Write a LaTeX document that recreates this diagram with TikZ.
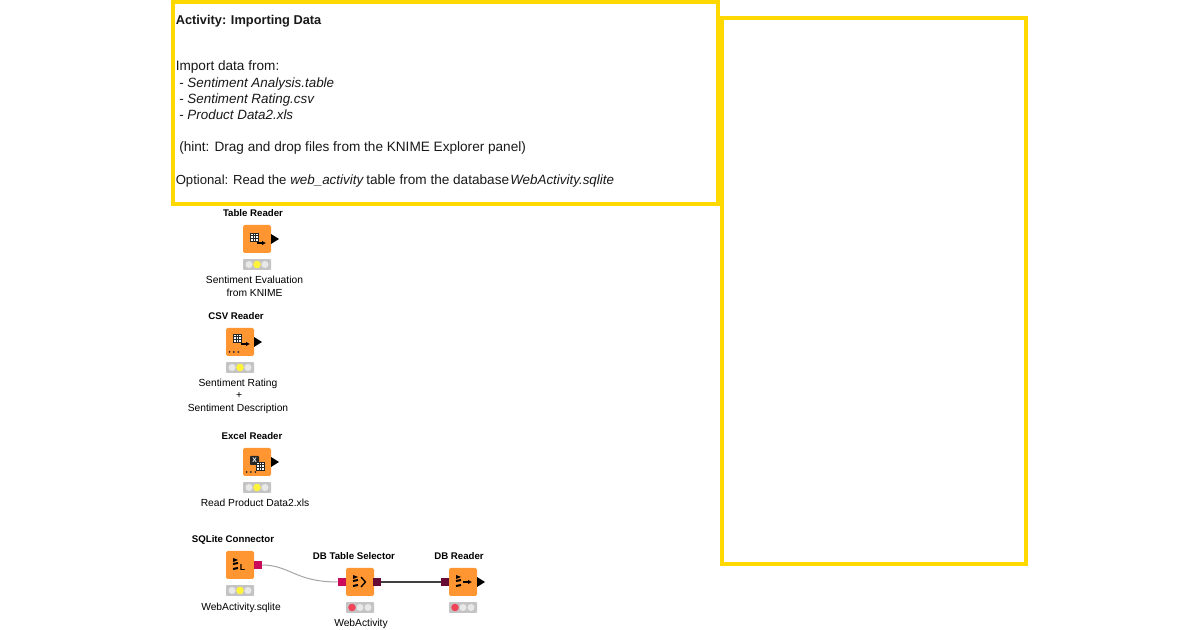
\documentclass[tikz,border=0pt]{standalone}
\usepackage{fontspec}
\setmainfont{Liberation Sans}
\usetikzlibrary{arrows.meta}
\definecolor{kyellow}{HTML}{FFD800}
\definecolor{korange}{HTML}{FF9632}
\definecolor{kgrey}{HTML}{C4C4C4}
\definecolor{kdot}{HTML}{E8E8E8}
\definecolor{kcrimson}{HTML}{CC0A5C}
\definecolor{kmaroon}{HTML}{660A36}
\definecolor{kstop}{HTML}{F04458}
\definecolor{kgo}{HTML}{FFF23A}
\tikzset{
  x=0.75pt,y=-0.75pt,
  panel/.style={draw=kyellow,line width=3pt,fill=white},
  body/.style={font=\fontsize{10.2}{12}\selectfont,anchor=base west,inner sep=0pt,text=black!90},
  bodytight/.style={body,font=\fontsize{9.85}{12}\selectfont},
  bodyit/.style={body,font=\fontsize{10.05}{12}\selectfont\itshape},
  title/.style={body,font=\fontsize{9.6}{12}\selectfont\bfseries},
  nname/.style={font=\fontsize{7.25}{8}\selectfont\bfseries,inner sep=0pt,anchor=base},
  nnote/.style={font=\fontsize{7.7}{8}\selectfont,inner sep=0pt,anchor=base},
  kbody/.style={fill=korange,rounded corners=1.2pt,minimum size=21pt,inner sep=0pt,draw=none},
  klight/.style={fill=kgrey,minimum width=21pt,minimum height=8pt,inner sep=0pt,rounded corners=0.5pt},
  kport/.style={minimum size=6pt,inner sep=0pt,draw=none},
  wire/.style={draw=black!35,line width=0.75pt},
  wiredb/.style={draw=black!75,line width=1pt},
}
\newcommand{\knode}[5]{%
  \node[kbody] (#1) at (#2,#3) {};
  \node[klight] (#1L) at (#2,#3+25.5) {};
  \foreach \i in {-1,0,1}{\fill[kdot] (#2+\i*8,#3+25.5) circle[radius=3.5];}
  \fill[#4] (#2+#5*8,#3+25.5) circle[radius=3.8];
}
\newcommand{\kout}[2]{\fill[black] (#1+14,#2-5) -- (#1+22,#2) -- (#1+14,#2+5) -- cycle;}
\newcommand{\kdots}[2]{\foreach \i in {0,1,2}{\fill[black!85] (#1-10.5+\i*4.4,#2+10) circle[radius=1];}}
\newcommand{\kgrid}[2]{%
  \draw[black!85,line width=0.3pt,fill=white] (#1-7,#2-6) rectangle (#1+1,#2+2);
  \draw[black!85,line width=0.3pt] (#1-4.3,#2-6)--(#1-4.3,#2+2) (#1-1.7,#2-6)--(#1-1.7,#2+2) (#1-7,#2-3.3)--(#1+1,#2-3.3) (#1-7,#2-0.7)--(#1+1,#2-0.7);
}
\newcommand{\karrow}[2]{\draw[black,line width=0.8pt,-{Latex[length=3pt,width=3.4pt]}] (#1-2,#2+4)--(#1+7,#2+4);}
\newcommand{\kdb}[2]{%
  \fill[black] (#1-7,#2-7) -- (#1-2,#2-5) -- (#1-7,#2-3) -- cycle;
  \foreach \i in {-1,4}{\draw[black,line width=1.5pt] (#1-7,#2+\i)--(#1-2,#2+\i-1);}}
\begin{document}
\begin{tikzpicture}
\useasboundingbox (0,0) rectangle (1200,630);
\fill[white] (0,0) rectangle (1200,630);
\draw[panel] (722,18) rectangle (1026,564);
\draw[panel] (173,2) rectangle (718,204);

\node[title]  (t1) at (175.5,25) {Activity: Importing Data};
\node[body]   (t2) at (175.5,71) {Import data from:};
\node[bodyit] (t3) at (179,88) {\upshape -\ \itshape Sentiment Analysis.table};
\node[bodyit] (t4) at (179,104) {\upshape -\ \itshape Sentiment Rating.csv};
\node[bodyit] (t5) at (179,120) {\upshape -\ \itshape Product Data2.xls};
\node[body]   (t6) at (179,152) {(hint: Drag and drop files from the KNIME Explorer panel)};
\node[bodytight] (t7) at (175.5,185) {Optional: Read the};
\node[bodyit] (t8) at (290,185) {web\_activity};
\node[body]   (t9) at (366,185) {table from the database};
\node[bodyit] (t10) at (510,185) {WebActivity.sqlite};

% Table Reader
\node[nname] (n1) at (253,217) {Table Reader};
\knode{tr}{257}{239}{kgo}{0}
\kout{257}{239}\kgrid{257}{239}\karrow{259}{239}
\node[nnote] (n1a) at (254.5,284) {Sentiment Evaluation};
\node[nnote] (n1b) at (254.5,297) {from KNIME};

% CSV Reader
\node[nname] (n2) at (236,320) {CSV Reader};
\knode{cr}{240}{342}{kgo}{0}
\kout{240}{342}\kgrid{240}{340}\karrow{243}{340}\kdots{240}{342}
\node[nnote] (n2a) at (238,387) {Sentiment Rating};
\node[nnote] (n2b) at (239,399) {+};
\node[nnote] (n2c) at (238,412) {Sentiment Description};

% Excel Reader
\node[nname] (n3) at (252,440) {Excel Reader};
\knode{er}{257}{462}{kgo}{0}
\kout{257}{462}\kdots{257}{462}
\fill[black!85,rounded corners=0.6pt] (250,456) rectangle (259,465);
\node[font=\fontsize{5}{6}\selectfont\bfseries,text=white,inner sep=0pt] (xl) at (254.5,460.5) {X};
\kgrid{263}{468}
\node[nnote] (n3a) at (255,507) {Read Product Data2.xls};

% SQLite Connector
\node[nname] (n4) at (233,543) {SQLite Connector};
\knode{sq}{240}{565}{kgo}{0}
\kdb{240}{565}
\node[font=\fontsize{6.5}{7}\selectfont\bfseries,inner sep=0pt] (sqL) at (242.5,568) {L};
\node[kport,fill=kcrimson] (sqo) at (257.5,565) {};
\node[nnote] (n4a) at (241,610) {WebActivity.sqlite};

% DB Table Selector
\node[nname] (n5) at (354,560) {DB Table Selector};
\knode{ts}{360}{582}{kstop}{-1}
\kdb{360}{582}
\draw[black,line width=1pt] (361,577)--(365.5,582)--(361,587);
\node[kport,fill=kcrimson] (tsi) at (342,582) {};
\node[kport,fill=kmaroon] (tso) at (377,582) {};
\node[nnote] (n5a) at (361,627) {WebActivity};

% DB Reader
\node[nname] (n6) at (459,560) {DB Reader};
\knode{dr}{463}{582}{kstop}{-1}
\kout{463}{582}\kdb{463}{582}\karrow{465}{578}
\node[kport,fill=kmaroon] (dri) at (445,582) {};

\draw[wire] (sqo.east) .. controls (290,565) and (295,582) .. (tsi.west);
\draw[wiredb] (tso.east) -- (dri.west);
\end{tikzpicture}
\end{document}
